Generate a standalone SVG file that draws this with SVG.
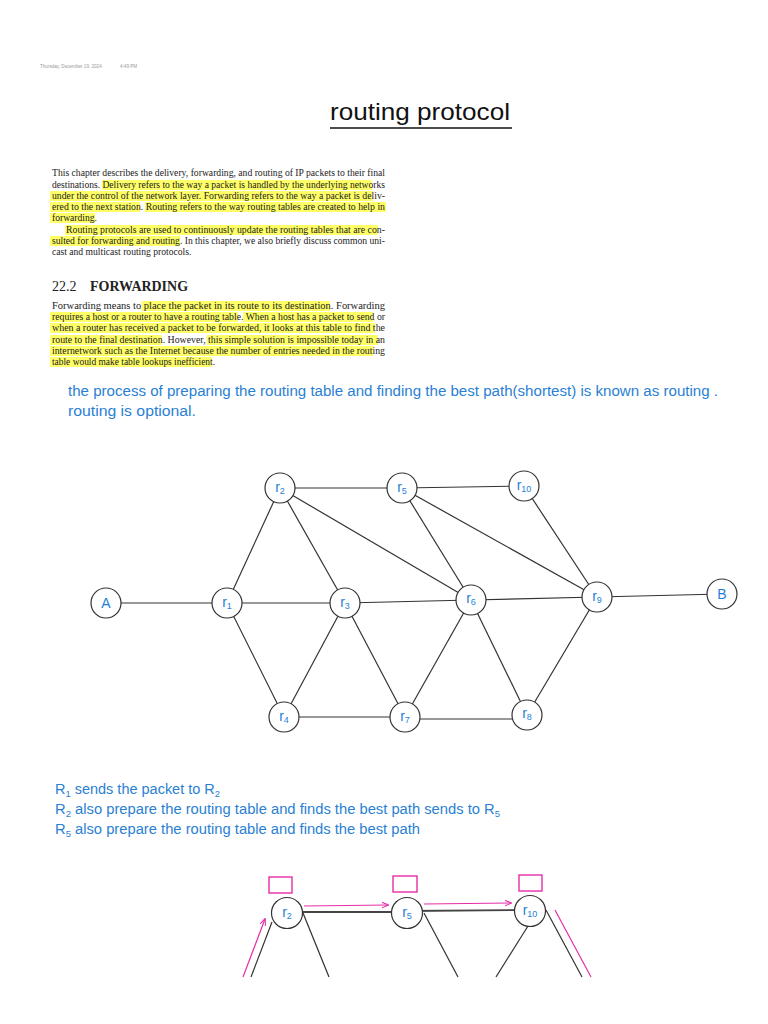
<svg xmlns="http://www.w3.org/2000/svg" width="768" height="1024" viewBox="0 0 768 1024">
<style>
.bk{font-family:"Liberation Serif",serif;font-size:9.6px;fill:#222}
.hl{fill:#ffff66}
.hw{font-family:"Liberation Sans",sans-serif;fill:#2a7fd4}
.nd{fill:#fff;stroke:#333;stroke-width:1.2}
.lb{font-family:"Liberation Sans",sans-serif;font-size:14px;fill:#1f7fd6;text-anchor:middle}
.sb{font-size:9px}
.ed{stroke:#333;stroke-width:1.2;fill:none}
.ed2{stroke:#444;stroke-width:1.8;fill:none}
.pk{stroke:#e62ea8;stroke-width:1.2;fill:none}
</style>
<defs>
<marker id="ah" viewBox="0 0 10 10" refX="9" refY="5" markerWidth="7" markerHeight="7" orient="auto" markerUnits="userSpaceOnUse">
<path d="M0,1 L10,5 L0,9" fill="none" stroke="#e62ea8" stroke-width="1.5"/>
</marker>
</defs>
<rect width="768" height="1024" fill="#fff"/>

<g id="header">
<text x="40" y="68" font-family="Liberation Sans,sans-serif" font-size="4.6" fill="#999">Thursday, December 19, 2024</text>
<text x="120" y="68" font-family="Liberation Sans,sans-serif" font-size="4.6" fill="#999">4:49 PM</text>
</g>

<g id="title">
<text x="330" y="120" font-family="Liberation Sans,sans-serif" font-size="24" fill="#111" textLength="180" lengthAdjust="spacingAndGlyphs">routing protocol</text>
<line x1="330" y1="128" x2="512" y2="128" stroke="#111" stroke-width="1.3"/>
</g>

<g id="book-highlights">
<rect class="hl" x="101.7" y="180" width="270" height="10"/>
<rect class="hl" x="50" y="191" width="323" height="10"/>
<rect class="hl" x="50" y="202" width="90" height="10"/>
<rect class="hl" x="145" y="202" width="241" height="10"/>
<rect class="hl" x="50" y="213" width="45" height="10"/>
<rect class="hl" x="65" y="225" width="313" height="10"/>
<rect class="hl" x="50" y="236" width="130" height="10"/>
<rect class="hl" x="141.7" y="301" width="188.3" height="10"/>
<rect class="hl" x="50" y="312" width="188" height="10"/>
<rect class="hl" x="243" y="312" width="130" height="10"/>
<rect class="hl" x="50" y="323" width="325" height="10"/>
<rect class="hl" x="50" y="335" width="111.7" height="10"/>
<rect class="hl" x="206.7" y="335" width="171.3" height="10"/>
<rect class="hl" x="50" y="346" width="323" height="10"/>
<rect class="hl" x="50" y="357" width="161.7" height="10"/>
</g>

<g id="book-text">
<text class="bk" x="52" y="176" textLength="333" lengthAdjust="spacingAndGlyphs">This chapter describes the delivery, forwarding, and routing of IP packets to their final</text>
<text class="bk" x="52" y="188" textLength="333" lengthAdjust="spacingAndGlyphs">destinations. Delivery refers to the way a packet is handled by the underlying networks</text>
<text class="bk" x="52" y="199" textLength="333" lengthAdjust="spacingAndGlyphs">under the control of the network layer. Forwarding refers to the way a packet is deliv-</text>
<text class="bk" x="52" y="210" textLength="333" lengthAdjust="spacingAndGlyphs">ered to the next station. Routing refers to the way routing tables are created to help in</text>
<text class="bk" x="52" y="221">forwarding.</text>
<text class="bk" x="66" y="233" textLength="319" lengthAdjust="spacingAndGlyphs">Routing protocols are used to continuously update the routing tables that are con-</text>
<text class="bk" x="52" y="244" textLength="333" lengthAdjust="spacingAndGlyphs">sulted for forwarding and routing. In this chapter, we also briefly discuss common uni-</text>
<text class="bk" x="52" y="255">cast and multicast routing protocols.</text>
<text x="52" y="291" font-family="Liberation Serif,serif" font-size="14" fill="#222">22.2</text>
<text x="90" y="291" font-family="Liberation Serif,serif" font-size="14" font-weight="bold" fill="#222" textLength="98" lengthAdjust="spacingAndGlyphs">FORWARDING</text>
<text class="bk" x="52" y="309" textLength="333" lengthAdjust="spacingAndGlyphs">Forwarding means to place the packet in its route to its destination. Forwarding</text>
<text class="bk" x="52" y="320" textLength="333" lengthAdjust="spacingAndGlyphs">requires a host or a router to have a routing table. When a host has a packet to send or</text>
<text class="bk" x="52" y="331" textLength="333" lengthAdjust="spacingAndGlyphs">when a router has received a packet to be forwarded, it looks at this table to find the</text>
<text class="bk" x="52" y="343" textLength="333" lengthAdjust="spacingAndGlyphs">route to the final destination. However, this simple solution is impossible today in an</text>
<text class="bk" x="52" y="354" textLength="333" lengthAdjust="spacingAndGlyphs">internetwork such as the Internet because the number of entries needed in the routing</text>
<text class="bk" x="52" y="365" textLength="163" lengthAdjust="spacingAndGlyphs">table would make table lookups inefficient.</text>
</g>

<g id="note1">
<text class="hw" x="68" y="396" font-size="14" textLength="650" lengthAdjust="spacingAndGlyphs">the process of preparing the routing table and finding the best path(shortest) is known as routing .</text>
<text class="hw" x="68" y="416" font-size="14" textLength="128" lengthAdjust="spacingAndGlyphs">routing is optional.</text>
</g>

<g id="connectors">
<line class="ed" x1="106" y1="603" x2="227" y2="603"/>
<line class="ed" x1="227" y1="603" x2="280" y2="488"/>
<line class="ed" x1="227" y1="603" x2="345" y2="603"/>
<line class="ed" x1="227" y1="603" x2="284" y2="717"/>
<line class="ed" x1="280" y1="488" x2="402" y2="488"/>
<line class="ed" x1="280" y1="488" x2="345" y2="603"/>
<line class="ed" x1="280" y1="488" x2="471" y2="600"/>
<line class="ed" x1="345" y1="603" x2="471" y2="600"/>
<line class="ed" x1="345" y1="603" x2="284" y2="717"/>
<line class="ed" x1="345" y1="603" x2="405" y2="717"/>
<line class="ed" x1="284" y1="717" x2="405" y2="717"/>
<line class="ed" x1="402" y1="488" x2="524" y2="486"/>
<line class="ed" x1="402" y1="488" x2="471" y2="600"/>
<line class="ed" x1="402" y1="488" x2="597" y2="597"/>
<line class="ed" x1="524" y1="486" x2="597" y2="597"/>
<line class="ed" x1="471" y1="600" x2="597" y2="597"/>
<line class="ed" x1="471" y1="600" x2="405" y2="717"/>
<line class="ed" x1="471" y1="600" x2="527" y2="715"/>
<line class="ed" x1="405" y1="719" x2="512" y2="719"/>
<line class="ed" x1="597" y1="597" x2="527" y2="715"/>
<line class="ed" x1="597" y1="597" x2="722" y2="594"/>

<line class="ed2" x1="287" y1="912" x2="407" y2="912"/>
<line class="ed2" x1="407" y1="911" x2="530" y2="910"/>
<line class="ed" x1="272" y1="922" x2="251" y2="977"/>
<line class="ed" x1="303" y1="913" x2="329" y2="977"/>
<line class="ed" x1="424" y1="913" x2="458" y2="977"/>
<line class="ed" x1="528" y1="926" x2="496" y2="977"/>
<line class="ed" x1="546" y1="910" x2="582" y2="977"/>
<line class="pk" x1="555" y1="910" x2="591" y2="977"/>
<line class="pk" x1="243" y1="977" x2="265" y2="919" marker-end="url(#ah)"/>
<line class="pk" x1="304" y1="906" x2="388" y2="905" marker-end="url(#ah)"/>
<line class="pk" x1="424" y1="904" x2="511" y2="903" marker-end="url(#ah)"/>
</g>

<g id="node-A"><circle class="nd" cx="106" cy="603" r="15"/><text class="lb" x="106" y="608">A</text></g>
<g id="node-r1"><circle class="nd" cx="227" cy="603" r="15"/><text class="lb" x="227" y="607">r<tspan class="sb" dy="2">1</tspan></text></g>
<g id="node-r2"><circle class="nd" cx="280" cy="488" r="15"/><text class="lb" x="280" y="492">r<tspan class="sb" dy="2">2</tspan></text></g>
<g id="node-r5"><circle class="nd" cx="402" cy="488" r="15"/><text class="lb" x="402" y="492">r<tspan class="sb" dy="2">5</tspan></text></g>
<g id="node-r10"><circle class="nd" cx="524" cy="486" r="15"/><text class="lb" x="524" y="490">r<tspan class="sb" dy="2">10</tspan></text></g>
<g id="node-r3"><circle class="nd" cx="345" cy="603" r="15"/><text class="lb" x="345" y="607">r<tspan class="sb" dy="2">3</tspan></text></g>
<g id="node-r6"><circle class="nd" cx="471" cy="600" r="15"/><text class="lb" x="471" y="603">r<tspan class="sb" dy="2">6</tspan></text></g>
<g id="node-r9"><circle class="nd" cx="597" cy="597" r="15"/><text class="lb" x="597" y="601">r<tspan class="sb" dy="2">9</tspan></text></g>
<g id="node-B"><circle class="nd" cx="722" cy="594" r="15"/><text class="lb" x="722" y="599">B</text></g>
<g id="node-r4"><circle class="nd" cx="284" cy="717" r="15"/><text class="lb" x="284" y="721">r<tspan class="sb" dy="2">4</tspan></text></g>
<g id="node-r7"><circle class="nd" cx="405" cy="717" r="15"/><text class="lb" x="405" y="721">r<tspan class="sb" dy="2">7</tspan></text></g>
<g id="node-r8"><circle class="nd" cx="527" cy="715" r="15"/><text class="lb" x="527" y="718">r<tspan class="sb" dy="2">8</tspan></text></g>

<g id="note2">
<text class="hw" x="55" y="794" font-size="14" textLength="165" lengthAdjust="spacingAndGlyphs">R<tspan font-size="9" dy="3">1</tspan><tspan dy="-3"> sends the packet to R</tspan><tspan font-size="9" dy="3">2</tspan></text>
<text class="hw" x="55" y="814" font-size="14" textLength="445" lengthAdjust="spacingAndGlyphs">R<tspan font-size="9" dy="3">2</tspan><tspan dy="-3"> also prepare the routing table and finds the best path sends to R</tspan><tspan font-size="9" dy="3">5</tspan></text>
<text class="hw" x="55" y="834" font-size="14" textLength="365" lengthAdjust="spacingAndGlyphs">R<tspan font-size="9" dy="3">5</tspan><tspan dy="-3"> also prepare the routing table and finds the best path</tspan></text>
</g>

<g id="table-r2"><rect x="269" y="877" width="23" height="16" fill="none" stroke="#e62ea8" stroke-width="1.4"/></g>
<g id="table-r5"><rect x="393" y="876" width="24" height="16" fill="none" stroke="#e62ea8" stroke-width="1.4"/></g>
<g id="table-r10"><rect x="519" y="875" width="23" height="16" fill="none" stroke="#e62ea8" stroke-width="1.4"/></g>
<g id="node2-r2"><circle class="nd" cx="287" cy="913" r="15.5"/><text class="lb" x="287" y="917">r<tspan class="sb" dy="2">2</tspan></text></g>
<g id="node2-r5"><circle class="nd" cx="407" cy="913" r="15.5"/><text class="lb" x="407" y="917">r<tspan class="sb" dy="2">5</tspan></text></g>
<g id="node2-r10"><circle class="nd" cx="530" cy="911" r="15.5"/><text class="lb" x="530" y="915">r<tspan class="sb" dy="2">10</tspan></text></g>
</svg>
